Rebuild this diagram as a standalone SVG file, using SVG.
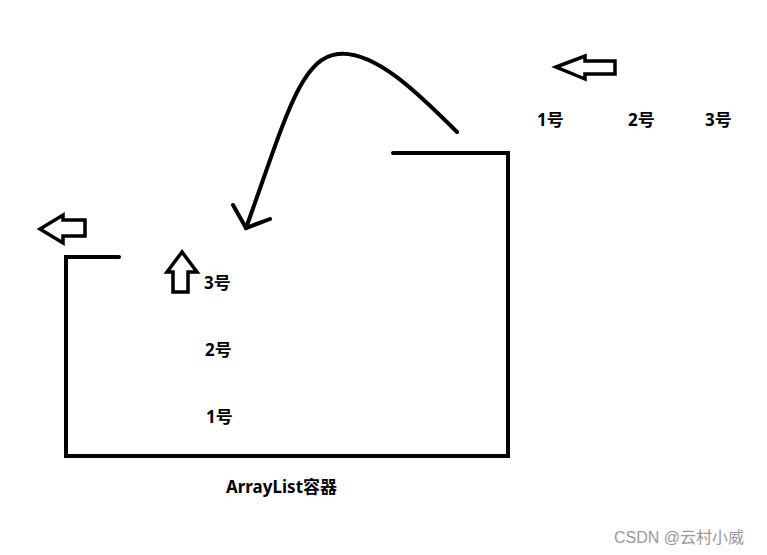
<svg xmlns="http://www.w3.org/2000/svg" width="767" height="555" viewBox="0 0 767 555">
<style>
.ln{fill:none;stroke:#000;stroke-width:4;stroke-linecap:round;stroke-linejoin:miter}
.ar{fill:#fff;stroke:#000;stroke-width:3.5;stroke-linejoin:miter}
.t{font-family:"Noto Sans","Noto Sans CJK SC",sans-serif;font-weight:bold;font-size:17px;fill:#000}
.wm{font-family:"Liberation Sans","Noto Sans CJK SC",sans-serif;font-size:16px;fill:#999}
</style>
<rect width="767" height="555" fill="#fff"/>
<g id="container">
<path class="ln" d="M393,153 H508 V456 H66 V257 H119"/>
<text class="t" x="226" y="493">ArrayList容器</text>
</g>
<g id="item3-in"><text class="t" x="204" y="289">3号</text></g>
<g id="item2-in"><text class="t" x="205" y="356">2号</text></g>
<g id="item1-in"><text class="t" x="206" y="423">1号</text></g>
<g id="item1-out"><text class="t" x="537" y="126">1号</text></g>
<g id="item2-out"><text class="t" x="628" y="126">2号</text></g>
<g id="item3-out"><text class="t" x="705" y="126">3号</text></g>
<g id="arrow-top-right"><polygon class="ar" points="556,67 585,56 585,61 615,61 615,74 585,74 585,79"/></g>
<g id="arrow-left"><polygon class="ar" points="40,229 63,215 63,220 85,220 85,236 63,236 63,243"/></g>
<g id="arrow-up"><polygon class="ar" points="182,252 167,272 173,272 173,292 188,292 188,272 197,272"/></g>
<g id="connectors">
<path class="ln" d="M457,132 C420,95 375,50 338,54 C300,58 285,120 246,228"/>
<path class="ln" d="M233,205 L246,228 L270,219"/>
</g>
<text class="wm" x="614" y="543">CSDN @云村小威</text>
</svg>
